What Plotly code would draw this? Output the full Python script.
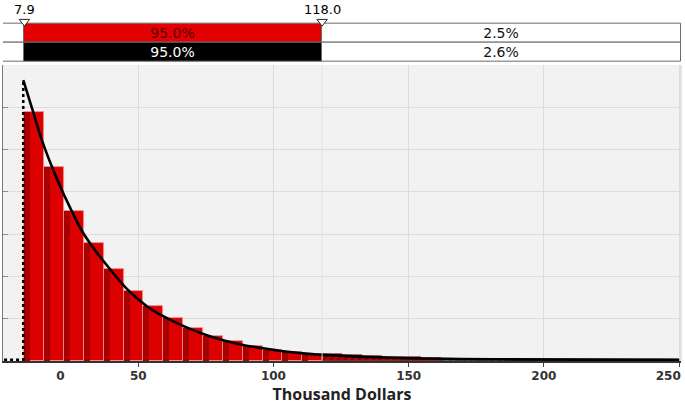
import plotly.graph_objects as go

# ---------------- data ----------------
LEFT_DELIM = 7.9
RIGHT_DELIM = 118.0
DELIM_LABELS = ["7.9", "118.0"]
ROW_MID_PCT = ["95.0%", "95.0%"]
ROW_RIGHT_PCT = ["2.5%", "2.6%"]

# histogram (relative density, in gridline units) between the delimiters
HIST = [5.89, 4.59, 3.55, 2.79, 2.17, 1.65, 1.30, 1.02, 0.78, 0.59, 0.47, 0.35, 0.26, 0.21, 0.17]
# right tail beyond 118.0 (hatched)
TAIL_RED = [0.17, 0.14, 0.12, 0.10, 0.09, 0.08]
TAIL_BLACK = [0.05, 0.05, 0.05, 0.05, 0.05, 0.04, 0.04, 0.04, 0.04, 0.04, 0.04, 0.04]

# fitted density curve
FIT_X = [7.5, 11.0, 14.5, 20.0, 25.6, 29.7, 34.5, 39.6, 45.9, 53.3, 59.2, 66.6, 74.0, 81.4, 88.8, 96.2, 103.5, 111.0, 120.0, 147.0, 184.0, 250.0]
FIT_Y = [6.64, 5.92, 5.20, 4.30, 3.52, 3.02, 2.58, 2.17, 1.70, 1.29, 1.06, 0.83, 0.64, 0.49, 0.38, 0.30, 0.23, 0.18, 0.14, 0.07, 0.04, 0.02]

TICK_LABELS = ["0", "50", "100", "150", "200", "250"]
GRID_VALUES = [50, 100, 150, 200, 250]
X_TITLE = "Thousand Dollars"

# ---------------- figure ----------------
XR = [0, 250.7]
n = len(HIST)
bw = (RIGHT_DELIM - LEFT_DELIM) / n
centers = [LEFT_DELIM + bw * (i + 0.5) for i in range(n)]
tail_red_x = [RIGHT_DELIM + bw * (i + 0.5) for i in range(len(TAIL_RED))]
tail_black_x = [RIGHT_DELIM + bw * (len(TAIL_RED) + i + 0.5) for i in range(len(TAIL_BLACK))]

fig = go.Figure()

# main red bars
fig.add_trace(go.Bar(x=centers, y=HIST, width=bw, marker=dict(color="#dc0000", line=dict(color="#f39a9a", width=0.8)),
                     showlegend=False, hoverinfo="skip"))
# darker left part to mimic gradient
fig.add_trace(go.Bar(x=[c - bw * 0.5 for c in centers], y=HIST, width=bw * 0.3, offset=0,
                     marker=dict(color="#a80000", line=dict(width=0)), showlegend=False, hoverinfo="skip"))
# hatched tail
fig.add_trace(go.Bar(x=tail_red_x, y=TAIL_RED, width=bw,
                     marker=dict(color="#c80000", line=dict(color="#400000", width=0.5),
                                 pattern=dict(shape="/", fgcolor="#300000", bgcolor="#c80000", size=5, solidity=0.35)),
                     showlegend=False, hoverinfo="skip"))
fig.add_trace(go.Bar(x=tail_black_x, y=TAIL_BLACK, width=bw,
                     marker=dict(color="#222222", line=dict(color="#111111", width=0.5),
                                 pattern=dict(shape="/", fgcolor="#000000", bgcolor="#777777", size=5, solidity=0.5)),
                     showlegend=False, hoverinfo="skip"))

# fit curve: dashed lead-in then solid curve
fig.add_trace(go.Scatter(x=[XR[0] + 0.4, FIT_X[0], FIT_X[0]], y=[0.03, 0.03, FIT_Y[0]], mode="lines",
                         line=dict(color="#000000", width=2.5, dash="dot"), showlegend=False, hoverinfo="skip"))
fig.add_trace(go.Scatter(x=FIT_X, y=FIT_Y, mode="lines", line=dict(color="#000000", width=2.6, shape="spline", smoothing=0.8),
                         showlegend=False, hoverinfo="skip"))

# percentile rows (on x3 / y2)
row_colors = ["#e30000", "#000000"]
mid_text_colors = ["#5a0000", "#ffffff"]
for r in range(2):
    yv = 1 - r
    segs = [(XR[0], LEFT_DELIM, "#ffffff", "", "#000"),
            (LEFT_DELIM, RIGHT_DELIM, row_colors[r], ROW_MID_PCT[r], mid_text_colors[r]),
            (RIGHT_DELIM, XR[1], "#ffffff", ROW_RIGHT_PCT[r], "#111111")]
    for (a, b, col, txt, tcol) in segs:
        fig.add_trace(go.Bar(orientation="h", y=[yv], x=[b - a], base=[a], width=1, xaxis="x3", yaxis="y2",
                             marker=dict(color=col, line=dict(color="#6a6a6a", width=1)),
                             text=[txt], textposition="inside", insidetextanchor="middle", textangle=0,
                             constraintext="none",
                             textfont=dict(family="DejaVu Sans", size=14, color=tcol),
                             showlegend=False, hoverinfo="skip"))

# delimiter triangles
fig.add_trace(go.Scatter(x=[LEFT_DELIM, RIGHT_DELIM], y=[1.62, 1.62], xaxis="x3", yaxis="y2", mode="markers",
                         marker=dict(symbol="triangle-down", size=9, color="#ffffff", line=dict(color="#222", width=1)),
                         cliponaxis=False, showlegend=False, hoverinfo="skip"))

# invisible trace for label axis
fig.add_trace(go.Scatter(x=[XR[0]], y=[0], xaxis="x2", yaxis="y", mode="markers",
                         marker=dict(opacity=0), showlegend=False, hoverinfo="skip"))

LABEL_POS = [21.2, 50, 100, 150, 200, 246]

annotations = [dict(x=v, y=2.24, xref="x3", yref="y2", text=t, showarrow=False, yanchor="middle",
                    font=dict(family="DejaVu Sans", size=13, color="#000"))
               for v, t in zip([LEFT_DELIM, RIGHT_DELIM], DELIM_LABELS)]

fig.update_layout(
    width=685, height=406,
    margin=dict(l=3, r=4, t=0, b=45, autoexpand=False),
    paper_bgcolor="#ffffff", plot_bgcolor="#ffffff",
    barmode="overlay", bargap=0,
    xaxis=dict(range=XR, tickvals=GRID_VALUES, showticklabels=False, ticks="outside", ticklen=4,
               tickcolor="#444", showline=True, linecolor="#333", linewidth=1.5, automargin=False,
               showgrid=True, gridcolor="#dcdcdc", gridwidth=1, zeroline=False, anchor="y"),
    xaxis2=dict(range=XR, overlaying="x", anchor="y", side="bottom", tickvals=LABEL_POS, ticktext=TICK_LABELS,
                showgrid=False, ticks="", showline=False, zeroline=False, automargin=False,
                ticklabelstandoff=6,
                tickfont=dict(family="DejaVu Sans", size=12, color="#333", weight="bold"),
                title=dict(text=X_TITLE, font=dict(family="Open Sans", size=16, color="#222", weight="bold"), standoff=2)),
    xaxis3=dict(range=XR, anchor="y2", visible=False, showgrid=False, automargin=False),
    yaxis=dict(domain=[0, 0.82], range=[0, 7], dtick=1, showticklabels=False, ticks="inside", ticklen=5,
               tickcolor="#888", showgrid=True, gridcolor="#dcdcdc", showline=True, linecolor="#777",
               linewidth=1, zeroline=False, automargin=False),
    yaxis2=dict(domain=[0.828, 0.976], range=[-0.5, 2.3], visible=False, anchor="x3", automargin=False),
    annotations=annotations,
    shapes=[
        dict(type="rect", xref="x domain", yref="y domain", x0=0, x1=1, y0=0, y1=1,
             fillcolor="#f2f2f2", line=dict(width=0), layer="below"),
        dict(type="line", xref="x", yref="y domain", x0=RIGHT_DELIM, x1=RIGHT_DELIM, y0=0, y1=1,
             line=dict(color="rgba(225,225,225,0.9)", width=1), layer="above"),
        dict(type="line", xref="paper", yref="y domain", x0=1, x1=1, y0=0, y1=1,
             line=dict(color="#cfcfcf", width=1)),
    ],
)

fig.write_html("out.html", config={"displayModeBar": False},
               post_script="document.body.style.margin='0';document.body.style.overflow='hidden';")
